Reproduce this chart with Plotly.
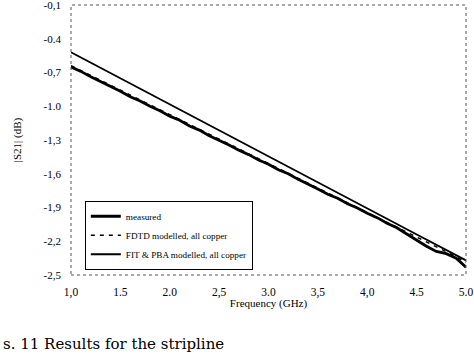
import plotly.graph_objects as go

freq = [1.0, 1.1, 1.2, 1.3, 1.4, 1.5, 1.6, 1.7, 1.8, 1.9,
        2.0, 2.1, 2.2, 2.3, 2.4, 2.5, 2.6, 2.7, 2.8, 2.9,
        3.0, 3.1, 3.2, 3.3, 3.4, 3.5, 3.6, 3.7, 3.8, 3.9,
        4.0, 4.1, 4.2, 4.3, 4.4, 4.5, 4.6, 4.7, 4.8, 4.9, 5.0]

measured = [-0.650, -0.690, -0.738, -0.779, -0.826, -0.866, -0.915, -0.953, -1.000, -1.040,
            -1.088, -1.125, -1.175, -1.212, -1.262, -1.300, -1.345, -1.390, -1.430, -1.478,
            -1.515, -1.565, -1.600, -1.650, -1.690, -1.735, -1.782, -1.818, -1.866, -1.905,
            -1.952, -1.990, -2.040, -2.080, -2.135, -2.190, -2.245, -2.290, -2.310, -2.350, -2.430]

fdtd = [-0.640, -0.684, -0.727, -0.771, -0.814, -0.858, -0.901, -0.945, -0.988, -1.032,
        -1.075, -1.119, -1.162, -1.206, -1.249, -1.293, -1.336, -1.380, -1.423, -1.467,
        -1.510, -1.554, -1.597, -1.641, -1.684, -1.728, -1.771, -1.815, -1.858, -1.902,
        -1.945, -1.989, -2.032, -2.076, -2.119, -2.163, -2.206, -2.250, -2.293, -2.337, -2.390]

fit_pba = [-0.520, -0.566, -0.613, -0.659, -0.705, -0.751, -0.798, -0.844, -0.890, -0.936,
           -0.983, -1.029, -1.075, -1.121, -1.168, -1.214, -1.260, -1.306, -1.353, -1.399,
           -1.445, -1.491, -1.538, -1.584, -1.630, -1.676, -1.723, -1.769, -1.815, -1.861,
           -1.908, -1.954, -2.000, -2.046, -2.093, -2.139, -2.185, -2.231, -2.278, -2.324, -2.370]

x_tickvals = [1.0, 1.5, 2.0, 2.5, 3.0, 3.5, 4.0, 4.5, 5.0]
x_ticktext = ["1,0", "1.5", "2.0", "2,5", "3.0", "3,5", "4,0", "4.5", "5.0"]
y_tickvals = [-0.1, -0.4, -0.7, -1.0, -1.3, -1.6, -1.9, -2.2, -2.5]
y_ticktext = ["-0,1", "-0.4", "-0,7", "-1.0", "-1,3", "-1,6", "-1,9", "-2,2", "-2,5"]

serif = "Liberation Serif, DejaVu Serif, serif"

fig = go.Figure()
fig.add_trace(go.Scatter(x=freq, y=measured, mode="lines", name="measured",
                         line=dict(color="black", width=2.8)))
fig.add_trace(go.Scatter(x=freq, y=fdtd, mode="lines", name="FDTD modelled, all copper",
                         line=dict(color="black", width=1.6, dash="4px,5px")))
fig.add_trace(go.Scatter(x=freq, y=fit_pba, mode="lines", name="FIT & PBA modelled, all copper",
                         line=dict(color="black", width=1.8)))

fig.update_layout(
    width=474, height=363,
    margin=dict(l=71, r=8, t=5, b=88),
    paper_bgcolor="white", plot_bgcolor="white",
    font=dict(family=serif, color="black", size=11),
    xaxis=dict(range=[1.0, 5.0], tickvals=x_tickvals, ticktext=x_ticktext,
               showgrid=False, zeroline=False, showline=False, ticks="",
               automargin=False, ticklabeloverflow="allow", ticklabelstandoff=8,
               title=dict(text="Frequency (GHz)", font=dict(size=11), standoff=0),
               tickfont=dict(size=11.5)),
    yaxis=dict(range=[-2.5, -0.1], tickvals=y_tickvals, ticktext=y_ticktext,
               showgrid=False, zeroline=False, showline=False, ticks="",
               automargin=False, ticklabeloverflow="allow", ticklabelstandoff=9,
               title=dict(text="|S21| (dB)", font=dict(size=11), standoff=19),
               tickfont=dict(size=11)),
    legend=dict(x=0.035, y=0.275, xanchor="left", yanchor="top",
                bordercolor="black", borderwidth=1, bgcolor="white",
                font=dict(size=9.2, family=serif), itemwidth=30,
                tracegroupgap=0),
    showlegend=True,
)

fig.add_shape(type="rect", xref="paper", yref="paper", x0=0, y0=0, x1=1, y1=1,
              line=dict(color="#555", width=1, dash="dot"))

fig.add_annotation(text="s. 11 Results for the stripline", xref="paper", yref="paper",
                   x=-0.178, y=-0.215, xanchor="left", yanchor="top", showarrow=False,
                   font=dict(size=15, family="DejaVu Serif, serif"))

fig.write_html("out.html", config={"displayModeBar": False},
               post_script="document.body.style.margin='0px';")
